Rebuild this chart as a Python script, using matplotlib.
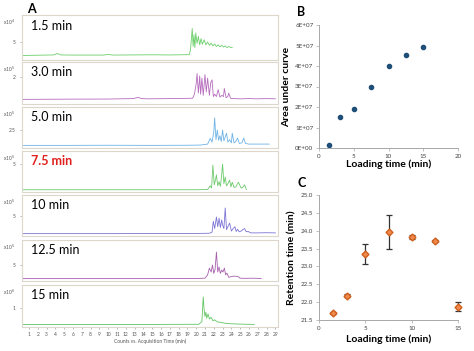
import matplotlib
matplotlib.use("Agg")
import matplotlib.pyplot as plt
from matplotlib.ticker import FuncFormatter

plt.rcParams["font.family"] = ["Lato", "DejaVu Sans"]

# ─────────────────────────────────────────
#  DATA
# ─────────────────────────────────────────
# panel A : extracted ion chromatograms (time in min, counts in panel units)
LABELS    = ["1.5 min", "3.0 min", "5.0 min", "7.5 min", "10 min", "12.5 min", "15 min"]
EXPONENTS = [4, 5, 5, 5, 5, 5, 6]
YTICKS    = [5, 2, 2.5, 5, 5, 5, 1]

T1 = [0.2, 2.0, 3.8, 4.2, 4.6, 6.0, 9.5, 10.0, 10.5, 12.5, 15.0, 17.0, 19.2, 19.35,
      19.45, 19.55, 19.65, 19.75, 19.85, 19.95, 20.1, 20.25, 20.4, 20.55, 20.7, 20.9,
      21.1, 21.3, 21.5, 21.7, 21.9, 22.1, 22.3, 22.5, 22.7, 22.9, 23.1, 23.3, 23.5,
      23.7, 23.9, 24.1]
I1 = [0.2, 0.3, 0.4, 0.9, 0.4, 0.35, 0.35, 0.6, 0.35, 0.4, 0.45, 0.4, 0.5, 2.2,
      6.0, 9.8, 3.5, 7.5, 3.0, 8.2, 4.5, 7.0, 4.0, 6.2, 4.2, 5.8,
      4.0, 5.0, 3.8, 4.6, 3.6, 4.3, 3.4, 4.0, 3.3, 3.8, 3.2, 3.6, 3.0,
      3.4, 3.1, 3.0]

T2 = [0.2, 5, 10, 12.8, 13.4, 13.8, 14.5, 17, 19.6, 19.8, 20.0, 20.1, 20.25, 20.4,
      20.5, 20.65, 20.8, 21.0, 21.15, 21.3, 21.5, 21.65, 21.8, 21.95, 22.1, 22.3,
      22.5, 22.7, 22.9, 23.1, 23.2, 23.4, 23.6, 23.7, 23.9, 24.2, 25, 26, 27, 28, 29]
I2 = [0.05, 0.07, 0.08, 0.12, 0.22, 0.12, 0.1, 0.12, 0.15, 0.5, 1.4, 2.3, 0.6, 2.1,
      0.5, 1.9, 0.4, 2.2, 0.7, 1.9, 0.4, 1.5, 1.75, 0.3, 0.5, 0.3,
      0.9, 0.25, 0.4, 0.3, 1.0, 0.2, 0.3, 0.6, 0.15, 0.12, 0.1, 0.12, 0.1, 0.12, 0.1]

T3 = [0.2, 5, 10, 15, 19, 20.5, 21.3, 21.6, 21.8, 22.0, 22.1, 22.25, 22.4, 22.55,
      22.7, 22.85, 23.0, 23.15, 23.3, 23.45, 23.6, 23.8, 24.0, 24.1, 24.3, 24.5,
      24.7, 24.9, 25.2, 25.4, 25.6, 26, 27, 28.3]
I3 = [0.1, 0.1, 0.12, 0.1, 0.12, 0.15, 0.3, 1.2, 0.6, 2.2, 4.4, 1.0, 2.5, 0.9,
      1.6, 0.7, 2.5, 0.8, 1.4, 2.0, 0.6, 1.0, 0.5, 2.0, 0.5, 0.7,
      1.25, 0.4, 0.5, 1.25, 0.4, 0.3, 0.3, 0.3]

T4 = [0.2, 5, 10, 15, 20, 21.3, 21.6, 21.75, 21.9, 22.05, 22.2, 22.3, 22.45, 22.6,
      22.75, 22.9, 23.0, 23.15, 23.3, 23.45, 23.6, 23.8, 23.95, 24.1, 24.3, 24.5,
      24.8, 25.1, 25.3, 25.5, 25.7]
I4 = [0.05, 0.05, 0.05, 0.05, 0.05, 0.1, 0.8, 0.4, 4.8, 1.0, 2.0, 2.9, 0.8, 1.6,
      0.7, 3.0, 5.0, 1.2, 2.5, 0.8, 1.2, 1.9, 0.6, 1.5, 0.5, 0.6,
      1.5, 0.4, 0.5, 1.0, 0.1]

T5 = [0.2, 5, 10, 15, 20, 21.5, 21.8, 21.95, 22.1, 22.3, 22.45, 22.6, 22.75, 22.9,
      23.0, 23.15, 23.3, 23.45, 23.6, 23.8, 24.0, 24.2, 24.4, 24.55, 24.7, 24.9,
      25.1, 25.3, 25.5, 25.7, 25.9, 26.2, 27, 28, 29]
I5 = [0.1, 0.1, 0.1, 0.12, 0.15, 0.2, 0.5, 3.5, 1.5, 4.7, 2.0, 4.4, 1.8, 3.9,
      2.5, 1.5, 7.2, 1.2, 2.0, 3.0, 0.8, 1.5, 2.0, 0.7, 1.3, 0.6,
      0.8, 1.2, 1.5, 0.6, 0.7, 0.3, 0.3, 0.35, 0.3]

T6 = [0.2, 5, 10, 15, 20, 21.0, 21.3, 21.5, 21.7, 21.85, 22.0, 22.15, 22.3, 22.45,
      22.6, 22.75, 22.9, 23.05, 23.2, 23.35, 23.5, 23.7, 23.9, 24.2, 24.5, 24.8,
      25.0, 25.5, 26.5, 27.4]
I6 = [0.15, 0.15, 0.15, 0.15, 0.2, 0.3, 1.5, 3.9, 2.5, 5.0, 2.0, 3.5, 9.6, 2.5,
      4.3, 2.0, 3.2, 2.5, 3.9, 1.5, 2.1, 0.6, 0.8, 1.0, 1.0, 0.8,
      0.3, 0.25, 0.3, 0.2]

T7 = [0.2, 5, 10, 15, 20.3, 20.65, 20.8, 20.9, 21.0, 21.1, 21.2, 21.35, 21.5, 21.7,
      21.9, 22.1, 22.4, 22.8, 23.3, 24, 25, 26.6]
I7 = [0.03, 0.03, 0.03, 0.03, 0.04, 0.2, 1.65, 0.9, 0.5, 0.75, 0.4, 0.65, 0.35, 0.45,
      0.25, 0.3, 0.18, 0.15, 0.1, 0.07, 0.05, 0.03]

TRACES = [(T1, I1), (T2, I2), (T3, I3), (T4, I4), (T5, I5), (T6, I6), (T7, I7)]
TIME_TICKS = list(range(1, 30))

# panel B : peak area vs loading time
LOAD = [1.5, 3, 5, 7.5, 10, 12.5, 15]
AREA = [0.15e7, 1.5e7, 1.9e7, 3.0e7, 4.02e7, 4.52e7, 4.95e7]

# panel C : retention time vs loading time
RT     = [21.7, 22.18, 23.35, 23.97, 23.83, 23.7, 21.87]
RT_ERR = [0.03, 0.04, 0.27, 0.48, 0.06, 0.03, 0.12]
# ─────────────────────────────────────────

W, H = 474, 351
COLORS = ["#6ccf6c", "#b66bbd", "#6fb3e6", "#6cc96c", "#7b73d6", "#a65fae", "#62c662"]
YLIMS  = [(-1.4, 14.6), (-0.35, 3.3), (-0.31, 6.1), (-0.38, 7.5),
          (-0.56, 10.8), (-0.7, 13.9), (-0.12, 2.35)]
ROWS   = [(15, 60), (62, 104), (107, 148), (151, 192), (195, 236), (240, 281), (285, 327)]


def px_rect(x0, y0, x1, y1):
    return [x0 / W, 1 - y1 / H, (x1 - x0) / W, (y1 - y0) / H]


fig = plt.figure(figsize=(W / 100, H / 100), dpi=100)

# ---- panel A
for k, (y0, y1) in enumerate(ROWS):
    ax = fig.add_axes(px_rect(22, y0, 278, y1))
    t, i = TRACES[k]
    ax.plot(t, i, color=COLORS[k], lw=0.6)
    ax.set_xlim(0.2, 29.3)
    ax.set_ylim(*YLIMS[k])
    for s in ax.spines.values():
        s.set_color("#dcd7c9")
        s.set_linewidth(0.8)
    ax.set_yticks([YTICKS[k]])
    ax.set_yticklabels([f"{YTICKS[k]:g}"], fontsize=3.5, color="#555555")
    ax.tick_params(axis="y", length=1.5, width=0.4, pad=3, color="#888888")
    ax.set_xticks(TIME_TICKS)
    if k == len(ROWS) - 1:
        ax.set_xticklabels([str(v) for v in TIME_TICKS], fontsize=3.5, color="#555555")
        ax.tick_params(axis="x", length=1.5, width=0.4, pad=2, color="#888888")
        ax.set_xlabel("Counts vs. Acquisition Time (min)", fontsize=3.5,
                      color="#555555", labelpad=1)
    else:
        ax.tick_params(axis="x", length=0, labelbottom=False)
    ax.text(-0.075, 0.93, f"x10$^{{{EXPONENTS[k]}}}$", transform=ax.transAxes,
            fontsize=3.5, color="#555555", va="top", ha="left")
    lab_color = "#e0201c" if k == 3 else "black"
    lab_weight = "bold" if k == 3 else "normal"
    ax.text(0.035, 0.9, LABELS[k], transform=ax.transAxes, fontsize=9,
            color=lab_color, fontweight=lab_weight, va="top", ha="left")

fig.text(27 / W, 1 - 9 / H, "A", fontsize=9, fontweight="bold", va="center")

# ---- panel B
axb = fig.add_axes(px_rect(319, 25, 458, 148))
axb.plot(LOAD, AREA, "o", color="#1f4e79", ms=3.0, mec="#1f4e79", clip_on=False)
axb.set_xlim(0, 20)
axb.set_ylim(0, 6e7)
axb.set_xticks([0, 5, 10, 15, 20])
axb.set_yticks([0, 1e7, 2e7, 3e7, 4e7, 5e7, 6e7])
axb.yaxis.set_major_formatter(FuncFormatter(
    lambda v, p: "0E+00" if v == 0 else f"{v / 1e7:.0f}E+07"))
axb.set_xlabel("Loading time (min)", fontsize=7.5, fontweight="bold", labelpad=1)
axb.set_ylabel("Area under curve", fontsize=7.5, fontweight="bold", labelpad=3)
fig.text(297 / W, 1 - 12 / H, "B", fontsize=9, fontweight="bold", va="center")

# ---- panel C
axc = fig.add_axes(px_rect(319, 195, 458, 320))
eb = axc.errorbar(LOAD, RT, yerr=RT_ERR, fmt="D", color="#e8702a", ms=3.5,
                  mfc="#f08a4b", mec="#d0601e", ecolor="#333333", elinewidth=0.9,
                  capsize=2.5, capthick=0.9)
for art in eb.lines[0:1] + tuple(eb.lines[1]) + tuple(eb.lines[2]):
    art.set_clip_on(False)
axc.plot(LOAD, RT, "+", color="#fde6d4", ms=2.6, mew=0.6, clip_on=False)
axc.set_xlim(0, 15)
axc.set_ylim(21.5, 25.0)
axc.set_xticks([0, 5, 10, 15])
axc.set_yticks([21.5, 22.0, 22.5, 23.0, 23.5, 24.0, 24.5, 25.0])
axc.yaxis.set_major_formatter(FuncFormatter(lambda v, p: f"{v:.1f}"))
axc.set_xlabel("Loading time (min)", fontsize=7.5, fontweight="bold", labelpad=3)
axc.set_ylabel("Retention time (min)", fontsize=7.5, fontweight="bold", labelpad=3)
fig.text(297 / W, 1 - 183 / H, "C", fontsize=9, fontweight="bold", va="center")

for ax in (axb, axc):
    ax.spines["top"].set_visible(False)
    ax.spines["right"].set_visible(False)
    for s in ("left", "bottom"):
        ax.spines[s].set_color("#a8a8a8")
        ax.spines[s].set_linewidth(0.7)
    ax.tick_params(labelsize=4.5, labelcolor="#444444", length=2, width=0.5,
                   color="#a8a8a8", pad=2)

fig.savefig("out.png", dpi=100)
